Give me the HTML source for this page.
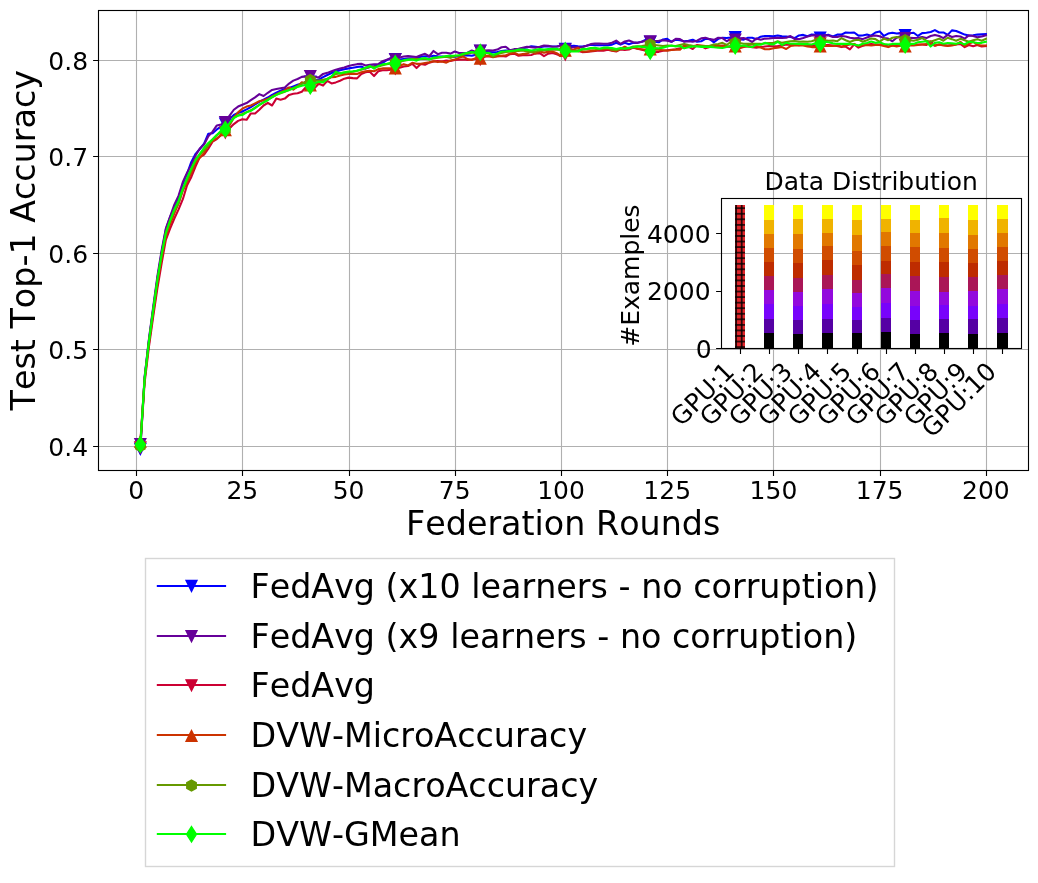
<!DOCTYPE html>
<html><head><meta charset="utf-8"><title>Federation Rounds</title>
<style>html,body{margin:0;padding:0;background:#fff}svg{display:block}svg text{font-kerning:none;font-family:'DejaVu Sans','Liberation Sans',sans-serif}</style></head>
<body>
<svg width="1038" height="883" viewBox="0 0 1038 883" font-family="'DejaVu Sans', 'Liberation Sans', sans-serif" fill="#000" style="font-kerning:none">
<rect width="1038" height="883" fill="#fff"/>
<path d="M136.5 10.5V470.5M242.5 10.5V470.5M349.5 10.5V470.5M455.5 10.5V470.5M561.5 10.5V470.5M667.5 10.5V470.5M773.5 10.5V470.5M880.5 10.5V470.5M986.5 10.5V470.5M98.5 446.5H1028.5M98.5 349.5H1028.5M98.5 253.5H1028.5M98.5 156.5H1028.5M98.5 60.5H1028.5" stroke="#b0b0b0" stroke-width="1.11" fill="none"/>
<clipPath id="c"><rect x="98.5" y="10.5" width="930.0" height="460.0"/></clipPath>
<g clip-path="url(#c)">
<path d="M140.35 448.91L144.60 377.95L148.85 340.94L153.10 309.32L157.34 278.91L161.59 252.68L165.84 229.68L170.09 216.98L174.34 208.06L178.59 198.41L182.84 183.80L187.09 173.60L191.34 161.96L195.59 153.85L199.83 148.98L204.08 143.67L208.33 133.69L212.58 133.20L216.83 129.45L221.08 126.54L225.33 123.52L229.58 118.75L233.83 115.04L238.08 112.92L242.32 111.54L246.57 109.42L250.82 107.09L255.07 104.44L259.32 101.79L263.57 99.67L267.82 97.55L272.07 94.90L276.32 92.79L280.57 90.67L284.81 89.08L289.06 88.02L293.31 86.43L297.56 84.84L301.81 83.57L306.06 82.51L310.31 81.66L314.56 80.60L318.81 79.54L323.06 77.09L327.30 74.97L331.55 73.06L335.80 71.58L340.05 70.20L344.30 69.25L348.55 68.40L352.80 67.77L357.05 67.02L361.30 66.49L365.55 68.61L369.79 67.02L374.04 66.28L378.29 64.90L382.54 62.79L386.79 60.14L391.04 58.23L395.29 59.08L399.54 59.61L403.79 59.08L408.04 58.55L412.28 58.23L416.53 58.55L420.78 56.79L425.03 56.26L429.28 56.79L433.53 55.73L437.78 56.37L442.03 56.58L446.28 57.01L450.53 57.11L454.77 56.79L459.02 56.26L463.27 55.73L467.52 55.20L471.77 55.73L476.02 54.67L480.27 50.96L484.52 51.71L488.77 52.02L493.02 52.34L497.26 52.02L501.51 50.96L505.76 50.43L510.01 50.43L514.26 49.90L518.51 49.16L522.76 48.31L527.01 47.47L531.26 46.26L535.51 46.79L539.75 47.32L544.00 46.58L548.25 46.58L552.50 46.58L556.75 46.58L561.00 45.73L565.25 48.91L569.50 46.26L573.75 45.73L578.00 46.26L582.25 46.58L586.49 45.73L590.74 44.67L594.99 45.20L599.24 45.20L603.49 45.20L607.74 45.20L611.99 44.67L616.24 42.77L620.49 44.67L624.73 42.77L628.98 44.14L633.23 42.85L637.48 42.85L641.73 41.79L645.98 39.67L650.23 41.79L654.48 41.79L658.73 42.32L662.98 39.46L667.23 38.83L671.47 41.79L675.72 39.67L679.97 40.20L684.22 41.26L688.47 40.73L692.72 39.67L696.97 41.79L701.22 41.26L705.47 38.83L709.72 39.14L713.96 42.32L718.21 38.83L722.46 37.77L726.71 38.08L730.96 37.55L735.21 37.13L739.46 39.14L743.71 39.67L747.96 37.77L752.20 37.77L756.45 39.14L760.70 36.71L764.95 35.96L769.20 35.96L773.45 36.28L777.70 35.43L781.95 36.28L786.20 36.49L790.45 37.02L794.69 38.08L798.94 35.43L803.19 34.90L807.44 36.28L811.69 34.59L815.94 34.90L820.19 37.55L824.44 35.22L828.69 34.90L832.94 36.49L837.18 34.59L841.43 34.59L845.68 32.47L849.93 32.79L854.18 32.47L858.43 35.65L862.68 35.43L866.93 34.59L871.18 35.65L875.43 32.47L879.67 31.41L883.92 35.96L888.17 33.53L892.42 32.79L896.67 33.53L900.92 33.10L905.17 35.22L909.42 33.31L913.67 32.79L917.92 35.96L922.16 33.10L926.41 32.79L930.66 32.04L934.91 30.14L939.16 32.47L943.41 32.47L947.66 34.90L951.91 30.35L956.16 30.98L960.41 32.79L964.65 34.59L968.90 35.43L973.15 35.22L977.40 34.59L981.65 34.37L985.90 34.16" stroke="#0000ff" stroke-width="2.08" fill="none" stroke-linejoin="round" stroke-linecap="square"/>
<polygon points="134.90,443.46 145.80,443.46 140.35,454.36" fill="#0000ff" stroke="#0000ff" stroke-width="1.39" stroke-linejoin="miter"/>
<polygon points="219.88,118.07 230.78,118.07 225.33,128.97" fill="#0000ff" stroke="#0000ff" stroke-width="1.39" stroke-linejoin="miter"/>
<polygon points="304.86,76.21 315.76,76.21 310.31,87.11" fill="#0000ff" stroke="#0000ff" stroke-width="1.39" stroke-linejoin="miter"/>
<polygon points="389.84,53.63 400.74,53.63 395.29,64.53" fill="#0000ff" stroke="#0000ff" stroke-width="1.39" stroke-linejoin="miter"/>
<polygon points="474.82,45.51 485.72,45.51 480.27,56.41" fill="#0000ff" stroke="#0000ff" stroke-width="1.39" stroke-linejoin="miter"/>
<polygon points="559.80,43.46 570.70,43.46 565.25,54.36" fill="#0000ff" stroke="#0000ff" stroke-width="1.39" stroke-linejoin="miter"/>
<polygon points="644.78,36.34 655.68,36.34 650.23,47.24" fill="#0000ff" stroke="#0000ff" stroke-width="1.39" stroke-linejoin="miter"/>
<polygon points="729.76,31.68 740.66,31.68 735.21,42.58" fill="#0000ff" stroke="#0000ff" stroke-width="1.39" stroke-linejoin="miter"/>
<polygon points="814.74,32.10 825.64,32.10 820.19,43.00" fill="#0000ff" stroke="#0000ff" stroke-width="1.39" stroke-linejoin="miter"/>
<polygon points="899.72,29.77 910.62,29.77 905.17,40.67" fill="#0000ff" stroke="#0000ff" stroke-width="1.39" stroke-linejoin="miter"/>
<path d="M140.35 444.09L144.60 376.98L148.85 339.65L153.10 307.56L157.34 276.52L161.59 250.56L165.84 228.39L170.09 216.49L174.34 204.67L178.59 195.67L182.84 182.00L187.09 172.81L191.34 165.17L195.59 155.57L199.83 148.41L204.08 144.46L208.33 136.20L212.58 131.63L216.83 125.40L221.08 124.52L225.33 122.14L229.58 115.57L233.83 109.74L238.08 106.56L242.32 104.76L246.57 103.06L250.82 100.20L255.07 97.34L259.32 94.16L263.57 95.96L267.82 92.79L272.07 89.92L276.32 89.08L280.57 88.23L284.81 87.49L289.06 83.57L293.31 80.60L297.56 79.01L301.81 76.89L306.06 76.36L310.31 76.15L314.56 76.89L318.81 77.42L323.06 73.91L327.30 72.85L331.55 71.26L335.80 69.67L340.05 68.61L344.30 67.55L348.55 65.96L352.80 64.90L357.05 64.16L361.30 63.84L365.55 65.43L369.79 64.90L374.04 64.37L378.29 64.16L382.54 61.20L386.79 59.61L391.04 58.02L395.29 59.29L399.54 57.49L403.79 56.43L408.04 56.11L412.28 56.43L416.53 56.96L420.78 55.20L425.03 53.83L429.28 56.26L433.53 50.96L437.78 54.14L442.03 52.77L446.28 52.77L450.53 53.61L454.77 51.49L459.02 53.08L463.27 53.08L467.52 52.77L471.77 50.43L476.02 52.02L480.27 50.75L484.52 50.43L488.77 50.22L493.02 50.43L497.26 49.59L501.51 47.26L505.76 46.73L510.01 50.22L514.26 49.16L518.51 48.84L522.76 47.79L527.01 46.73L531.26 47.32L535.51 47.64L539.75 46.79L544.00 45.52L548.25 45.73L552.50 46.79L556.75 46.58L561.00 45.73L565.25 49.76L569.50 47.85L573.75 47.32L578.00 47.32L582.25 47.32L586.49 45.73L590.74 44.14L594.99 43.61L599.24 43.61L603.49 43.83L607.74 43.83L611.99 42.77L616.24 40.65L620.49 43.83L624.73 41.49L628.98 40.43L633.23 42.32L637.48 42.85L641.73 41.79L645.98 40.73L650.23 41.37L654.48 40.95L658.73 40.73L662.98 40.20L667.23 40.73L671.47 41.79L675.72 38.83L679.97 39.14L684.22 41.79L688.47 41.26L692.72 41.79L696.97 40.73L701.22 38.40L705.47 37.77L709.72 39.14L713.96 39.89L718.21 37.77L722.46 38.08L726.71 41.26L730.96 38.61L735.21 39.67L739.46 38.40L743.71 38.08L747.96 39.67L752.20 42.01L756.45 38.40L760.70 39.67L764.95 38.61L769.20 38.40L773.45 38.08L777.70 37.77L781.95 38.08L786.20 37.77L790.45 35.96L794.69 39.14L798.94 39.14L803.19 38.08L807.44 36.49L811.69 35.43L815.94 35.43L820.19 40.52L824.44 35.22L828.69 35.43L832.94 37.02L837.18 37.02L841.43 35.96L845.68 36.49L849.93 37.77L854.18 38.40L858.43 38.08L862.68 39.14L866.93 37.55L871.18 35.96L875.43 35.43L879.67 36.28L883.92 38.08L888.17 38.61L892.42 41.26L896.67 37.77L900.92 35.96L905.17 38.19L909.42 37.77L913.67 38.08L917.92 37.77L922.16 37.02L926.41 38.08L930.66 35.96L934.91 34.90L939.16 35.96L943.41 38.08L947.66 34.90L951.91 37.02L956.16 35.96L960.41 36.49L964.65 38.61L968.90 35.43L973.15 35.96L977.40 37.34L981.65 36.49L985.90 35.22" stroke="#660099" stroke-width="2.08" fill="none" stroke-linejoin="round" stroke-linecap="square"/>
<polygon points="134.90,438.64 145.80,438.64 140.35,449.54" fill="#660099" stroke="#660099" stroke-width="1.39" stroke-linejoin="miter"/>
<polygon points="219.88,116.69 230.78,116.69 225.33,127.59" fill="#660099" stroke="#660099" stroke-width="1.39" stroke-linejoin="miter"/>
<polygon points="304.86,70.70 315.76,70.70 310.31,81.60" fill="#660099" stroke="#660099" stroke-width="1.39" stroke-linejoin="miter"/>
<polygon points="389.84,53.84 400.74,53.84 395.29,64.74" fill="#660099" stroke="#660099" stroke-width="1.39" stroke-linejoin="miter"/>
<polygon points="474.82,45.30 485.72,45.30 480.27,56.20" fill="#660099" stroke="#660099" stroke-width="1.39" stroke-linejoin="miter"/>
<polygon points="559.80,44.31 570.70,44.31 565.25,55.21" fill="#660099" stroke="#660099" stroke-width="1.39" stroke-linejoin="miter"/>
<polygon points="644.78,35.92 655.68,35.92 650.23,46.82" fill="#660099" stroke="#660099" stroke-width="1.39" stroke-linejoin="miter"/>
<polygon points="729.76,34.22 740.66,34.22 735.21,45.12" fill="#660099" stroke="#660099" stroke-width="1.39" stroke-linejoin="miter"/>
<polygon points="814.74,35.07 825.64,35.07 820.19,45.97" fill="#660099" stroke="#660099" stroke-width="1.39" stroke-linejoin="miter"/>
<polygon points="899.72,32.74 910.62,32.74 905.17,43.64" fill="#660099" stroke="#660099" stroke-width="1.39" stroke-linejoin="miter"/>
<path d="M140.35 447.47L144.60 382.78L148.85 347.38L153.10 317.41L157.34 288.58L161.59 263.47L165.84 239.80L170.09 228.60L174.34 218.51L178.59 209.40L182.84 199.22L187.09 185.20L191.34 176.96L195.59 166.40L199.83 157.12L204.08 154.64L208.33 148.59L212.58 141.71L216.83 139.10L221.08 134.98L225.33 132.53L229.58 128.29L233.83 124.05L238.08 120.87L242.32 119.28L246.57 119.81L250.82 113.45L255.07 113.45L259.32 109.74L263.57 105.50L267.82 102.85L272.07 105.50L276.32 98.61L280.57 99.67L284.81 98.61L289.06 94.90L293.31 93.84L297.56 93.31L301.81 91.73L306.06 86.96L310.31 87.49L314.56 88.02L318.81 83.78L323.06 85.57L327.30 80.80L331.55 83.45L335.80 82.39L340.05 80.80L344.30 78.68L348.55 77.62L352.80 78.15L357.05 78.36L361.30 73.91L365.55 72.32L369.79 71.79L374.04 76.03L378.29 71.26L382.54 70.20L386.79 70.20L391.04 69.67L395.29 68.61L399.54 67.77L403.79 66.49L408.04 65.96L412.28 63.84L416.53 68.08L420.78 64.00L425.03 64.74L429.28 62.62L433.53 61.56L437.78 61.03L442.03 61.56L446.28 60.50L450.53 61.03L454.77 59.97L459.02 59.76L463.27 59.44L467.52 59.97L471.77 59.44L476.02 58.91L480.27 59.23L484.52 56.79L488.77 56.26L493.02 56.79L497.26 56.26L501.51 55.95L505.76 56.58L510.01 54.14L514.26 53.61L518.51 55.73L522.76 55.20L527.01 55.20L531.26 55.06L535.51 53.36L539.75 53.15L544.00 56.12L548.25 53.68L552.50 52.94L556.75 54.21L561.00 56.12L565.25 54.42L569.50 51.56L573.75 50.50L578.00 51.03L582.25 52.09L586.49 51.88L590.74 51.56L594.99 51.03L599.24 50.50L603.49 50.82L607.74 49.76L611.99 50.82L616.24 51.56L620.49 49.44L624.73 49.97L628.98 49.44L633.23 47.62L637.48 48.68L641.73 49.74L645.98 50.80L650.23 50.80L654.48 52.18L658.73 51.86L662.98 50.80L667.23 50.27L671.47 49.74L675.72 49.21L679.97 48.15L684.22 46.03L688.47 46.56L692.72 49.00L696.97 44.97L701.22 46.03L705.47 48.36L709.72 47.09L713.96 46.56L718.21 46.56L722.46 45.50L726.71 46.56L730.96 47.09L735.21 45.50L739.46 47.62L743.71 46.56L747.96 46.56L752.20 47.30L756.45 47.62L760.70 47.09L764.95 46.56L769.20 46.03L773.45 46.24L777.70 46.03L781.95 45.50L786.20 44.44L790.45 44.97L794.69 44.44L798.94 45.18L803.19 44.44L807.44 44.97L811.69 45.50L815.94 44.97L820.19 43.49L824.44 44.97L828.69 44.97L832.94 45.50L837.18 46.03L841.43 47.09L845.68 46.56L849.93 49.42L854.18 44.44L858.43 47.62L862.68 45.82L866.93 44.44L871.18 43.91L875.43 44.44L879.67 44.44L883.92 44.12L888.17 46.56L892.42 45.18L896.67 46.03L900.92 45.50L905.17 44.97L909.42 44.44L913.67 44.97L917.92 44.44L922.16 44.44L926.41 44.97L930.66 41.26L934.91 45.50L939.16 44.44L943.41 44.97L947.66 45.50L951.91 44.97L956.16 44.44L960.41 43.91L964.65 47.09L968.90 44.97L973.15 46.24L977.40 44.97L981.65 46.56L985.90 46.03" stroke="#cc0033" stroke-width="2.08" fill="none" stroke-linejoin="round" stroke-linecap="square"/>
<polygon points="134.90,442.02 145.80,442.02 140.35,452.92" fill="#cc0033" stroke="#cc0033" stroke-width="1.39" stroke-linejoin="miter"/>
<polygon points="219.88,127.08 230.78,127.08 225.33,137.98" fill="#cc0033" stroke="#cc0033" stroke-width="1.39" stroke-linejoin="miter"/>
<polygon points="304.86,82.04 315.76,82.04 310.31,92.94" fill="#cc0033" stroke="#cc0033" stroke-width="1.39" stroke-linejoin="miter"/>
<polygon points="389.84,63.16 400.74,63.16 395.29,74.06" fill="#cc0033" stroke="#cc0033" stroke-width="1.39" stroke-linejoin="miter"/>
<polygon points="474.82,53.78 485.72,53.78 480.27,64.68" fill="#cc0033" stroke="#cc0033" stroke-width="1.39" stroke-linejoin="miter"/>
<polygon points="559.80,48.97 570.70,48.97 565.25,59.87" fill="#cc0033" stroke="#cc0033" stroke-width="1.39" stroke-linejoin="miter"/>
<polygon points="644.78,45.35 655.68,45.35 650.23,56.25" fill="#cc0033" stroke="#cc0033" stroke-width="1.39" stroke-linejoin="miter"/>
<polygon points="729.76,40.05 740.66,40.05 735.21,50.95" fill="#cc0033" stroke="#cc0033" stroke-width="1.39" stroke-linejoin="miter"/>
<polygon points="814.74,38.04 825.64,38.04 820.19,48.94" fill="#cc0033" stroke="#cc0033" stroke-width="1.39" stroke-linejoin="miter"/>
<polygon points="899.72,39.52 910.62,39.52 905.17,50.42" fill="#cc0033" stroke="#cc0033" stroke-width="1.39" stroke-linejoin="miter"/>
<path d="M140.35 441.67L144.60 379.88L148.85 344.16L153.10 313.80L157.34 284.29L161.59 258.63L165.84 236.26L170.09 224.38L174.34 213.35L178.59 203.35L182.84 190.67L187.09 182.06L191.34 173.15L195.59 162.79L199.83 157.70L204.08 152.98L208.33 144.72L212.58 141.09L216.83 138.25L221.08 135.02L225.33 130.19L229.58 125.11L233.83 117.69L238.08 112.39L242.32 108.68L246.57 106.56L250.82 105.50L255.07 103.38L259.32 101.26L263.57 100.20L267.82 98.83L272.07 96.49L276.32 94.16L280.57 92.26L284.81 90.14L289.06 87.49L293.31 89.61L297.56 86.43L301.81 82.19L306.06 83.46L310.31 85.37L314.56 84.02L318.81 82.68L323.06 81.33L327.30 79.42L331.55 77.09L335.80 76.88L340.05 75.50L344.30 74.44L348.55 73.91L352.80 73.70L357.05 73.91L361.30 72.32L365.55 71.26L369.79 70.73L374.04 71.26L378.29 69.14L382.54 68.40L386.79 68.40L391.04 68.40L395.29 68.30L399.54 65.96L403.79 64.16L408.04 65.43L412.28 62.79L416.53 63.84L420.78 63.68L425.03 62.94L429.28 62.30L433.53 61.24L437.78 62.09L442.03 61.56L446.28 62.62L450.53 60.50L454.77 59.44L459.02 57.85L463.27 56.58L467.52 59.12L471.77 59.97L476.02 58.06L480.27 58.59L484.52 56.26L488.77 55.73L493.02 57.32L497.26 56.26L501.51 55.73L505.76 55.20L510.01 53.61L514.26 52.77L518.51 54.67L522.76 54.14L527.01 53.61L531.26 51.56L535.51 53.68L539.75 51.56L544.00 52.62L548.25 51.88L552.50 51.56L556.75 53.15L561.00 55.80L565.25 50.71L569.50 49.97L573.75 49.44L578.00 47.85L582.25 51.56L586.49 51.56L590.74 51.03L594.99 50.50L599.24 49.44L603.49 49.44L607.74 48.70L611.99 50.50L616.24 51.03L620.49 48.91L624.73 46.79L628.98 48.70L633.23 47.09L637.48 48.68L641.73 49.21L645.98 49.74L650.23 49.42L654.48 49.74L658.73 49.74L662.98 50.27L667.23 50.80L671.47 50.06L675.72 49.74L679.97 49.74L684.22 45.50L688.47 47.09L692.72 46.03L696.97 45.50L701.22 45.50L705.47 46.03L709.72 46.56L713.96 46.03L718.21 45.50L722.46 46.03L726.71 46.56L730.96 46.56L735.21 46.46L739.46 48.15L743.71 47.09L747.96 46.03L752.20 46.56L756.45 46.03L760.70 47.62L764.95 49.21L769.20 49.21L773.45 48.15L777.70 47.62L781.95 47.09L786.20 49.00L790.45 46.03L794.69 45.50L798.94 45.50L803.19 45.50L807.44 46.56L811.69 47.09L815.94 47.09L820.19 46.46L824.44 46.03L828.69 46.03L832.94 46.03L837.18 45.50L841.43 46.56L845.68 45.50L849.93 44.44L854.18 43.91L858.43 46.03L862.68 45.50L866.93 44.97L871.18 45.50L875.43 44.97L879.67 44.97L883.92 46.03L888.17 47.09L892.42 45.50L896.67 46.56L900.92 45.50L905.17 46.46L909.42 45.50L913.67 45.50L917.92 44.97L922.16 44.44L926.41 44.12L930.66 43.91L934.91 45.82L939.16 44.44L943.41 45.50L947.66 46.03L951.91 45.50L956.16 44.44L960.41 41.79L964.65 46.03L968.90 43.91L973.15 41.79L977.40 44.97L981.65 45.50L985.90 45.50" stroke="#cc3300" stroke-width="2.08" fill="none" stroke-linejoin="round" stroke-linecap="square"/>
<polygon points="134.90,447.12 145.80,447.12 140.35,436.22" fill="#cc3300" stroke="#cc3300" stroke-width="1.39" stroke-linejoin="miter"/>
<polygon points="219.88,135.64 230.78,135.64 225.33,124.74" fill="#cc3300" stroke="#cc3300" stroke-width="1.39" stroke-linejoin="miter"/>
<polygon points="304.86,90.82 315.76,90.82 310.31,79.92" fill="#cc3300" stroke="#cc3300" stroke-width="1.39" stroke-linejoin="miter"/>
<polygon points="389.84,73.75 400.74,73.75 395.29,62.85" fill="#cc3300" stroke="#cc3300" stroke-width="1.39" stroke-linejoin="miter"/>
<polygon points="474.82,64.04 485.72,64.04 480.27,53.14" fill="#cc3300" stroke="#cc3300" stroke-width="1.39" stroke-linejoin="miter"/>
<polygon points="559.80,56.16 570.70,56.16 565.25,45.26" fill="#cc3300" stroke="#cc3300" stroke-width="1.39" stroke-linejoin="miter"/>
<polygon points="644.78,54.87 655.68,54.87 650.23,43.97" fill="#cc3300" stroke="#cc3300" stroke-width="1.39" stroke-linejoin="miter"/>
<polygon points="729.76,51.91 740.66,51.91 735.21,41.01" fill="#cc3300" stroke="#cc3300" stroke-width="1.39" stroke-linejoin="miter"/>
<polygon points="814.74,51.91 825.64,51.91 820.19,41.01" fill="#cc3300" stroke="#cc3300" stroke-width="1.39" stroke-linejoin="miter"/>
<polygon points="899.72,51.91 910.62,51.91 905.17,41.01" fill="#cc3300" stroke="#cc3300" stroke-width="1.39" stroke-linejoin="miter"/>
<path d="M140.35 446.02L144.60 378.92L148.85 342.28L153.10 310.77L157.34 280.34L161.59 255.62L165.84 232.86L170.09 220.28L174.34 210.68L178.59 203.12L182.84 189.39L187.09 179.89L191.34 170.05L195.59 159.46L199.83 154.41L204.08 150.28L208.33 145.48L212.58 139.44L216.83 135.09L221.08 131.99L225.33 129.88L229.58 123.52L233.83 117.16L238.08 115.57L242.32 113.98L246.57 112.13L250.82 110.27L255.07 107.62L259.32 104.97L263.57 102.32L267.82 99.67L272.07 97.29L276.32 94.90L280.57 93.31L284.81 91.73L289.06 89.87L293.31 88.02L297.56 85.90L301.81 83.78L306.06 81.92L310.31 80.07L314.56 80.33L318.81 80.60L323.06 79.64L327.30 78.68L331.55 76.30L335.80 73.91L340.05 73.38L344.30 72.85L348.55 72.32L352.80 71.79L357.05 70.73L361.30 69.67L365.55 68.35L369.79 67.02L374.04 66.76L378.29 66.49L382.54 65.33L386.79 64.16L391.04 63.47L395.29 62.79L399.54 61.73L403.79 60.67L408.04 59.87L412.28 59.08L416.53 58.99L420.78 58.91L425.03 59.02L429.28 59.12L433.53 58.38L437.78 57.64L442.03 57.22L446.28 56.79L450.53 57.85L454.77 56.26L459.02 55.47L463.27 54.67L467.52 53.72L471.77 52.77L476.02 52.77L480.27 52.77L484.52 53.08L488.77 53.40L493.02 56.79L497.26 54.14L501.51 53.08L505.76 52.02L510.01 51.65L514.26 51.28L518.51 50.86L522.76 50.43L527.01 51.49L531.26 52.30L535.51 51.40L539.75 50.50L544.00 50.24L548.25 49.97L552.50 49.71L556.75 49.44L561.00 49.71L565.25 49.97L569.50 50.50L573.75 51.03L578.00 50.24L582.25 49.44L586.49 49.07L590.74 48.70L594.99 48.81L599.24 48.91L603.49 48.49L607.74 48.06L611.99 49.76L616.24 50.18L620.49 48.70L624.73 48.54L628.98 48.38L633.23 46.56L637.48 46.30L641.73 46.03L645.98 45.50L650.23 44.44L654.48 44.97L658.73 45.50L662.98 46.03L667.23 45.50L671.47 45.77L675.72 46.03L679.97 44.97L684.22 43.91L688.47 44.97L692.72 45.82L696.97 45.93L701.22 46.03L705.47 45.93L709.72 45.82L713.96 44.44L718.21 43.91L722.46 42.85L726.71 44.97L730.96 41.79L735.21 42.85L739.46 43.06L743.71 43.70L747.96 43.91L752.20 43.70L756.45 43.91L760.70 43.91L764.95 43.38L769.20 43.06L773.45 43.06L777.70 41.26L781.95 42.85L786.20 42.01L790.45 41.26L794.69 40.95L798.94 41.79L803.19 41.58L807.44 41.79L811.69 41.26L815.94 39.67L820.19 41.79L824.44 40.20L828.69 40.73L832.94 40.52L837.18 41.26L841.43 38.08L845.68 40.20L849.93 42.01L854.18 40.20L858.43 39.67L862.68 41.79L866.93 40.20L871.18 38.40L875.43 39.14L879.67 41.79L883.92 38.61L888.17 40.20L892.42 37.77L896.67 37.02L900.92 37.77L905.17 40.20L909.42 40.20L913.67 40.73L917.92 39.67L922.16 38.08L926.41 40.73L930.66 41.79L934.91 40.20L939.16 38.61L943.41 40.73L947.66 37.77L951.91 39.14L956.16 40.73L960.41 38.83L964.65 40.20L968.90 41.79L973.15 40.20L977.40 39.14L981.65 40.73L985.90 38.83" stroke="#669900" stroke-width="2.08" fill="none" stroke-linejoin="round" stroke-linecap="square"/>
<polygon points="140.35,440.57 145.07,443.29 145.07,448.74 140.35,451.47 135.63,448.74 135.63,443.29" fill="#669900" stroke="#669900" stroke-width="1.39" stroke-linejoin="miter"/>
<polygon points="225.33,124.43 230.05,127.15 230.05,132.60 225.33,135.33 220.61,132.60 220.61,127.15" fill="#669900" stroke="#669900" stroke-width="1.39" stroke-linejoin="miter"/>
<polygon points="310.31,74.62 315.03,77.34 315.03,82.79 310.31,85.52 305.59,82.79 305.59,77.34" fill="#669900" stroke="#669900" stroke-width="1.39" stroke-linejoin="miter"/>
<polygon points="395.29,57.34 400.01,60.06 400.01,65.51 395.29,68.24 390.57,65.51 390.57,60.06" fill="#669900" stroke="#669900" stroke-width="1.39" stroke-linejoin="miter"/>
<polygon points="480.27,47.32 484.99,50.04 484.99,55.49 480.27,58.22 475.55,55.49 475.55,50.04" fill="#669900" stroke="#669900" stroke-width="1.39" stroke-linejoin="miter"/>
<polygon points="565.25,44.52 569.97,47.25 569.97,52.70 565.25,55.42 560.53,52.70 560.53,47.25" fill="#669900" stroke="#669900" stroke-width="1.39" stroke-linejoin="miter"/>
<polygon points="650.23,38.99 654.95,41.72 654.95,47.17 650.23,49.89 645.51,47.17 645.51,41.72" fill="#669900" stroke="#669900" stroke-width="1.39" stroke-linejoin="miter"/>
<polygon points="735.21,37.40 739.93,40.13 739.93,45.58 735.21,48.30 730.49,45.58 730.49,40.13" fill="#669900" stroke="#669900" stroke-width="1.39" stroke-linejoin="miter"/>
<polygon points="820.19,36.34 824.91,39.07 824.91,44.52 820.19,47.24 815.47,44.52 815.47,39.07" fill="#669900" stroke="#669900" stroke-width="1.39" stroke-linejoin="miter"/>
<polygon points="905.17,34.75 909.89,37.48 909.89,42.93 905.17,45.65 900.45,42.93 900.45,37.48" fill="#669900" stroke="#669900" stroke-width="1.39" stroke-linejoin="miter"/>
<path d="M140.35 444.57L144.60 378.92L148.85 342.23L153.10 310.75L157.34 280.45L161.59 254.33L165.84 232.98L170.09 220.84L174.34 209.41L178.59 200.61L182.84 188.59L187.09 178.01L191.34 168.37L195.59 160.07L199.83 153.81L204.08 147.76L208.33 142.98L212.58 139.17L216.83 135.03L221.08 130.81L225.33 129.35L229.58 122.99L233.83 118.22L238.08 115.57L242.32 115.04L246.57 112.39L250.82 110.80L255.07 108.15L259.32 104.97L263.57 102.32L267.82 100.20L272.07 97.02L276.32 94.90L280.57 92.79L284.81 91.20L289.06 90.14L293.31 88.55L297.56 86.96L301.81 85.68L306.06 84.84L310.31 85.90L314.56 83.25L318.81 81.66L323.06 82.39L327.30 79.21L331.55 76.56L335.80 71.79L340.05 73.38L344.30 72.32L348.55 71.58L352.80 71.26L357.05 70.73L361.30 69.14L365.55 67.77L369.79 65.96L374.04 68.61L378.29 65.96L382.54 64.37L386.79 63.84L391.04 62.79L395.29 63.53L399.54 61.20L403.79 60.14L408.04 59.61L412.28 59.61L416.53 60.67L420.78 58.70L425.03 58.06L429.28 59.44L433.53 57.64L437.78 57.32L442.03 56.79L446.28 55.95L450.53 55.73L454.77 55.52L459.02 55.20L463.27 53.83L467.52 52.77L471.77 52.02L476.02 52.77L480.27 52.34L484.52 53.08L488.77 52.77L493.02 54.67L497.26 53.61L501.51 51.49L505.76 51.28L510.01 50.96L514.26 50.65L518.51 49.59L522.76 49.59L527.01 49.90L531.26 50.50L535.51 49.76L539.75 49.12L544.00 49.44L548.25 49.12L552.50 48.91L556.75 48.70L561.00 50.50L565.25 50.50L569.50 51.56L573.75 51.56L578.00 51.56L582.25 48.91L586.49 49.12L590.74 48.06L594.99 47.85L599.24 48.70L603.49 47.64L607.74 47.64L611.99 48.06L616.24 48.91L620.49 48.06L624.73 48.70L628.98 47.85L633.23 47.30L637.48 46.56L641.73 46.88L645.98 47.09L650.23 51.33L654.48 48.15L658.73 48.36L662.98 47.62L667.23 46.56L671.47 45.50L675.72 46.56L679.97 46.03L684.22 48.36L688.47 47.30L692.72 46.56L696.97 46.56L701.22 46.88L705.47 46.88L709.72 46.88L713.96 47.30L718.21 47.62L722.46 47.94L726.71 47.09L730.96 46.03L735.21 45.93L739.46 46.03L743.71 45.50L747.96 46.56L752.20 47.09L756.45 44.44L760.70 44.76L764.95 42.85L769.20 44.12L773.45 44.44L777.70 41.79L781.95 44.97L786.20 42.85L790.45 43.70L794.69 43.70L798.94 43.91L803.19 44.12L807.44 44.12L811.69 44.44L815.94 43.06L820.19 43.91L824.44 41.79L828.69 42.32L832.94 43.38L837.18 43.91L841.43 43.91L845.68 43.91L849.93 43.91L854.18 44.44L858.43 45.50L862.68 43.70L866.93 43.06L871.18 41.58L875.43 42.85L879.67 42.32L883.92 43.91L888.17 44.44L892.42 43.91L896.67 43.91L900.92 43.91L905.17 45.08L909.42 43.91L913.67 43.91L917.92 42.32L922.16 41.79L926.41 41.26L930.66 46.56L934.91 42.85L939.16 42.32L943.41 43.70L947.66 43.06L951.91 43.38L956.16 43.70L960.41 42.85L964.65 44.44L968.90 41.79L973.15 42.32L977.40 43.06L981.65 42.85L985.90 41.79" stroke="#00ff00" stroke-width="2.08" fill="none" stroke-linejoin="round" stroke-linecap="square"/>
<polygon points="140.35,436.86 145.28,444.57 140.35,452.28 135.42,444.57" fill="#00ff00" stroke="#00ff00" stroke-width="1.39" stroke-linejoin="miter"/>
<polygon points="225.33,121.64 230.26,129.35 225.33,137.05 220.40,129.35" fill="#00ff00" stroke="#00ff00" stroke-width="1.39" stroke-linejoin="miter"/>
<polygon points="310.31,78.19 315.24,85.90 310.31,93.60 305.38,85.90" fill="#00ff00" stroke="#00ff00" stroke-width="1.39" stroke-linejoin="miter"/>
<polygon points="395.29,55.82 400.22,63.53 395.29,71.23 390.36,63.53" fill="#00ff00" stroke="#00ff00" stroke-width="1.39" stroke-linejoin="miter"/>
<polygon points="480.27,44.63 485.20,52.34 480.27,60.05 475.34,52.34" fill="#00ff00" stroke="#00ff00" stroke-width="1.39" stroke-linejoin="miter"/>
<polygon points="565.25,42.79 570.18,50.50 565.25,58.21 560.32,50.50" fill="#00ff00" stroke="#00ff00" stroke-width="1.39" stroke-linejoin="miter"/>
<polygon points="650.23,43.62 655.16,51.33 650.23,59.04 645.30,51.33" fill="#00ff00" stroke="#00ff00" stroke-width="1.39" stroke-linejoin="miter"/>
<polygon points="735.21,38.22 740.14,45.93 735.21,53.63 730.28,45.93" fill="#00ff00" stroke="#00ff00" stroke-width="1.39" stroke-linejoin="miter"/>
<polygon points="820.19,36.21 825.12,43.91 820.19,51.62 815.26,43.91" fill="#00ff00" stroke="#00ff00" stroke-width="1.39" stroke-linejoin="miter"/>
<polygon points="905.17,37.37 910.10,45.08 905.17,52.79 900.24,45.08" fill="#00ff00" stroke="#00ff00" stroke-width="1.39" stroke-linejoin="miter"/>
</g>
<rect x="98.5" y="10.5" width="930.0" height="460.0" fill="none" stroke="#000" stroke-width="1.11"/>
<path d="M136.5 470.5v5.4M242.5 470.5v5.4M349.5 470.5v5.4M455.5 470.5v5.4M561.5 470.5v5.4M667.5 470.5v5.4M773.5 470.5v5.4M880.5 470.5v5.4M986.5 470.5v5.4M98.5 446.5h-5.4M98.5 349.5h-5.4M98.5 253.5h-5.4M98.5 156.5h-5.4M98.5 60.5h-5.4" stroke="#000" stroke-width="1.11" fill="none"/>
<text x="136.10" y="498.8" font-size="25" text-anchor="middle">0</text>
<text x="242.32" y="498.8" font-size="25" text-anchor="middle">25</text>
<text x="348.55" y="498.8" font-size="25" text-anchor="middle">50</text>
<text x="454.77" y="498.8" font-size="25" text-anchor="middle">75</text>
<text x="561.00" y="498.8" font-size="25" text-anchor="middle">100</text>
<text x="667.23" y="498.8" font-size="25" text-anchor="middle">125</text>
<text x="773.45" y="498.8" font-size="25" text-anchor="middle">150</text>
<text x="879.67" y="498.8" font-size="25" text-anchor="middle">175</text>
<text x="985.90" y="498.8" font-size="25" text-anchor="middle">200</text>
<text x="88.1" y="456.00" font-size="25" text-anchor="end">0.4</text>
<text x="88.1" y="359.00" font-size="25" text-anchor="end">0.5</text>
<text x="88.1" y="263.00" font-size="25" text-anchor="end">0.6</text>
<text x="88.1" y="166.00" font-size="25" text-anchor="end">0.7</text>
<text x="88.1" y="70.00" font-size="25" text-anchor="end">0.8</text>
<text x="563.2" y="535" font-size="33.33" text-anchor="middle">Federation Rounds</text>
<text transform="translate(35.3,240.2) rotate(-90)" font-size="33.33" text-anchor="middle">Test Top-1 Accuracy</text>
<defs><pattern id="hx" width="5.556" height="5.556" patternUnits="userSpaceOnUse" x="738.922" y="205.422"><rect width="5.556" height="5.556" fill="#e3262b"/><path d="M0 2.778H5.556M2.778 0V5.556" stroke="#000" stroke-width="1.5"/></pattern></defs>
<rect x="735" y="205" width="10" height="143" fill="url(#hx)"/>
<rect x="764" y="333" width="10" height="15" fill="#000000"/>
<rect x="764" y="319" width="10" height="14" fill="#5500a4"/>
<rect x="764" y="304" width="10" height="15" fill="#7803fb"/>
<rect x="764" y="290" width="10" height="14" fill="#9309dd"/>
<rect x="764" y="276" width="10" height="14" fill="#aa1657"/>
<rect x="764" y="262" width="10" height="14" fill="#be2c00"/>
<rect x="764" y="248" width="10" height="14" fill="#d04c00"/>
<rect x="764" y="234" width="10" height="14" fill="#e17800"/>
<rect x="764" y="220" width="10" height="14" fill="#f0b300"/>
<rect x="764" y="205" width="10" height="15" fill="#ffff00"/>
<rect x="793" y="334" width="10" height="14" fill="#000000"/>
<rect x="793" y="320" width="10" height="14" fill="#5500a4"/>
<rect x="793" y="306" width="10" height="14" fill="#7803fb"/>
<rect x="793" y="292" width="10" height="14" fill="#9309dd"/>
<rect x="793" y="278" width="10" height="14" fill="#aa1657"/>
<rect x="793" y="263" width="10" height="15" fill="#be2c00"/>
<rect x="793" y="249" width="10" height="14" fill="#d04c00"/>
<rect x="793" y="234" width="10" height="15" fill="#e17800"/>
<rect x="793" y="219" width="10" height="15" fill="#f0b300"/>
<rect x="793" y="205" width="10" height="14" fill="#ffff00"/>
<rect x="822" y="333" width="11" height="15" fill="#000000"/>
<rect x="822" y="319" width="11" height="14" fill="#5500a4"/>
<rect x="822" y="304" width="11" height="15" fill="#7803fb"/>
<rect x="822" y="289" width="11" height="15" fill="#9309dd"/>
<rect x="822" y="275" width="11" height="14" fill="#aa1657"/>
<rect x="822" y="260" width="11" height="15" fill="#be2c00"/>
<rect x="822" y="246" width="11" height="14" fill="#d04c00"/>
<rect x="822" y="233" width="11" height="13" fill="#e17800"/>
<rect x="822" y="219" width="11" height="14" fill="#f0b300"/>
<rect x="822" y="205" width="11" height="14" fill="#ffff00"/>
<rect x="852" y="333" width="10" height="15" fill="#000000"/>
<rect x="852" y="320" width="10" height="13" fill="#5500a4"/>
<rect x="852" y="307" width="10" height="13" fill="#7803fb"/>
<rect x="852" y="293" width="10" height="14" fill="#9309dd"/>
<rect x="852" y="280" width="10" height="13" fill="#aa1657"/>
<rect x="852" y="265" width="10" height="15" fill="#be2c00"/>
<rect x="852" y="251" width="10" height="14" fill="#d04c00"/>
<rect x="852" y="235" width="10" height="16" fill="#e17800"/>
<rect x="852" y="220" width="10" height="15" fill="#f0b300"/>
<rect x="852" y="205" width="10" height="15" fill="#ffff00"/>
<rect x="881" y="332" width="10" height="16" fill="#000000"/>
<rect x="881" y="318" width="10" height="14" fill="#5500a4"/>
<rect x="881" y="303" width="10" height="15" fill="#7803fb"/>
<rect x="881" y="288" width="10" height="15" fill="#9309dd"/>
<rect x="881" y="274" width="10" height="14" fill="#aa1657"/>
<rect x="881" y="261" width="10" height="13" fill="#be2c00"/>
<rect x="881" y="246" width="10" height="15" fill="#d04c00"/>
<rect x="881" y="232" width="10" height="14" fill="#e17800"/>
<rect x="881" y="219" width="10" height="13" fill="#f0b300"/>
<rect x="881" y="205" width="10" height="14" fill="#ffff00"/>
<rect x="910" y="334" width="10" height="14" fill="#000000"/>
<rect x="910" y="320" width="10" height="14" fill="#5500a4"/>
<rect x="910" y="306" width="10" height="14" fill="#7803fb"/>
<rect x="910" y="291" width="10" height="15" fill="#9309dd"/>
<rect x="910" y="276" width="10" height="15" fill="#aa1657"/>
<rect x="910" y="262" width="10" height="14" fill="#be2c00"/>
<rect x="910" y="247" width="10" height="15" fill="#d04c00"/>
<rect x="910" y="233" width="10" height="14" fill="#e17800"/>
<rect x="910" y="220" width="10" height="13" fill="#f0b300"/>
<rect x="910" y="205" width="10" height="15" fill="#ffff00"/>
<rect x="939" y="333" width="10" height="15" fill="#000000"/>
<rect x="939" y="319" width="10" height="14" fill="#5500a4"/>
<rect x="939" y="305" width="10" height="14" fill="#7803fb"/>
<rect x="939" y="292" width="10" height="13" fill="#9309dd"/>
<rect x="939" y="277" width="10" height="15" fill="#aa1657"/>
<rect x="939" y="262" width="10" height="15" fill="#be2c00"/>
<rect x="939" y="248" width="10" height="14" fill="#d04c00"/>
<rect x="939" y="233" width="10" height="15" fill="#e17800"/>
<rect x="939" y="218" width="10" height="15" fill="#f0b300"/>
<rect x="939" y="205" width="10" height="13" fill="#ffff00"/>
<rect x="968" y="334" width="10" height="14" fill="#000000"/>
<rect x="968" y="319" width="10" height="15" fill="#5500a4"/>
<rect x="968" y="306" width="10" height="13" fill="#7803fb"/>
<rect x="968" y="291" width="10" height="15" fill="#9309dd"/>
<rect x="968" y="277" width="10" height="14" fill="#aa1657"/>
<rect x="968" y="263" width="10" height="14" fill="#be2c00"/>
<rect x="968" y="249" width="10" height="14" fill="#d04c00"/>
<rect x="968" y="235" width="10" height="14" fill="#e17800"/>
<rect x="968" y="220" width="10" height="15" fill="#f0b300"/>
<rect x="968" y="205" width="10" height="15" fill="#ffff00"/>
<rect x="997" y="333" width="11" height="15" fill="#000000"/>
<rect x="997" y="318" width="11" height="15" fill="#5500a4"/>
<rect x="997" y="304" width="11" height="14" fill="#7803fb"/>
<rect x="997" y="289" width="11" height="15" fill="#9309dd"/>
<rect x="997" y="275" width="11" height="14" fill="#aa1657"/>
<rect x="997" y="261" width="11" height="14" fill="#be2c00"/>
<rect x="997" y="247" width="11" height="14" fill="#d04c00"/>
<rect x="997" y="233" width="11" height="14" fill="#e17800"/>
<rect x="997" y="219" width="11" height="14" fill="#f0b300"/>
<rect x="997" y="205" width="11" height="14" fill="#ffff00"/>
<rect x="721.5" y="198.5" width="300.0" height="150.0" fill="none" stroke="#000" stroke-width="1.11"/>
<path d="M740.5 348.5v5.4M769.5 348.5v5.4M798.5 348.5v5.4M827.5 348.5v5.4M857.5 348.5v5.4M886.5 348.5v5.4M915.5 348.5v5.4M944.5 348.5v5.4M973.5 348.5v5.4M1002.5 348.5v5.4M721.5 348.5h-5.4M721.5 291.5h-5.4M721.5 233.5h-5.4" stroke="#000" stroke-width="1.11" fill="none"/>
<text x="711.6" y="357.60" font-size="25" text-anchor="end">0</text>
<text x="710.6" y="300.20" font-size="25" text-anchor="end">2000</text>
<text x="710.6" y="242.80" font-size="25" text-anchor="end">4000</text>
<text x="871.2" y="190.0" font-size="25" text-anchor="middle">Data Distribution</text>
<text transform="translate(638.5,275.6) rotate(-90)" font-size="25" text-anchor="middle">#Examples</text>
<text transform="translate(735.85,372.95) rotate(-45)" font-size="25" text-anchor="end">GPU:1</text>
<text transform="translate(764.85,372.95) rotate(-45)" font-size="25" text-anchor="end">GPU:2</text>
<text transform="translate(793.85,372.95) rotate(-45)" font-size="25" text-anchor="end">GPU:3</text>
<text transform="translate(822.85,372.95) rotate(-45)" font-size="25" text-anchor="end">GPU:4</text>
<text transform="translate(852.85,372.95) rotate(-45)" font-size="25" text-anchor="end">GPU:5</text>
<text transform="translate(881.85,372.95) rotate(-45)" font-size="25" text-anchor="end">GPU:6</text>
<text transform="translate(910.85,372.95) rotate(-45)" font-size="25" text-anchor="end">GPU:7</text>
<text transform="translate(939.85,372.95) rotate(-45)" font-size="25" text-anchor="end">GPU:8</text>
<text transform="translate(968.85,372.95) rotate(-45)" font-size="25" text-anchor="end">GPU:9</text>
<text transform="translate(997.85,372.95) rotate(-45)" font-size="25" text-anchor="end">GPU:10</text>
<rect x="145.5" y="558.5" width="749" height="308" fill="#fff" stroke="#d6d6d6" stroke-width="1.39"/>
<path d="M156.8 586H226.1" stroke="#0000ff" stroke-width="2.08"/>
<polygon points="186.05,580.55 196.95,580.55 191.50,591.45" fill="#0000ff" stroke="#0000ff" stroke-width="1.39" stroke-linejoin="miter"/>
<text x="250.5" y="598" font-size="33.33">FedAvg (x10 learners - no corruption)</text>
<path d="M156.8 636H226.1" stroke="#660099" stroke-width="2.08"/>
<polygon points="186.05,630.80 196.95,630.80 191.50,641.70" fill="#660099" stroke="#660099" stroke-width="1.39" stroke-linejoin="miter"/>
<text x="250.5" y="648" font-size="33.33">FedAvg (x9 learners - no corruption)</text>
<path d="M156.8 685H226.1" stroke="#cc0033" stroke-width="2.08"/>
<polygon points="186.05,679.85 196.95,679.85 191.50,690.75" fill="#cc0033" stroke="#cc0033" stroke-width="1.39" stroke-linejoin="miter"/>
<text x="250.5" y="697" font-size="33.33">FedAvg</text>
<path d="M156.8 735H226.1" stroke="#cc3300" stroke-width="2.08"/>
<polygon points="186.05,741.35 196.95,741.35 191.50,730.45" fill="#cc3300" stroke="#cc3300" stroke-width="1.39" stroke-linejoin="miter"/>
<text x="250.5" y="747" font-size="33.33">DVW-MicroAccuracy</text>
<path d="M156.8 785H226.1" stroke="#669900" stroke-width="2.08"/>
<polygon points="191.50,780.05 196.22,782.77 196.22,788.23 191.50,790.95 186.78,788.23 186.78,782.77" fill="#669900" stroke="#669900" stroke-width="1.39" stroke-linejoin="miter"/>
<text x="250.5" y="797" font-size="33.33">DVW-MacroAccuracy</text>
<path d="M156.8 834H226.1" stroke="#00ff00" stroke-width="2.08"/>
<polygon points="191.50,826.59 196.43,834.30 191.50,842.01 186.57,834.30" fill="#00ff00" stroke="#00ff00" stroke-width="1.39" stroke-linejoin="miter"/>
<text x="250.5" y="846" font-size="33.33">DVW-GMean</text>
</svg>
</body></html>
